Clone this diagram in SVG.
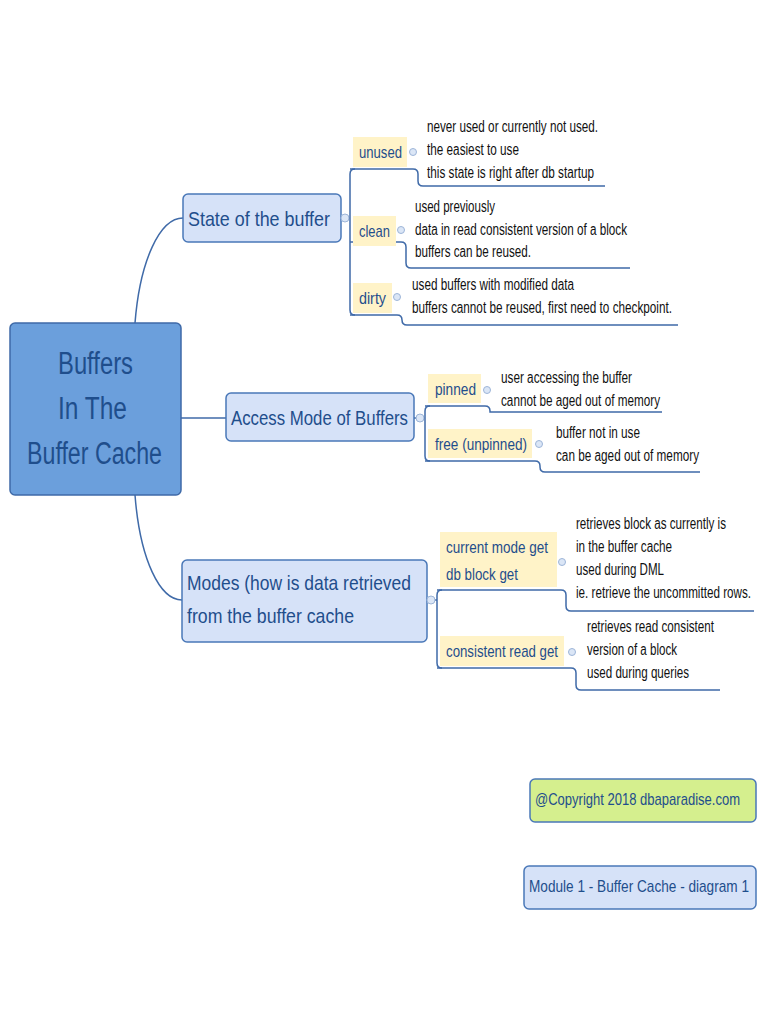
<svg xmlns="http://www.w3.org/2000/svg" width="768" height="1024" viewBox="0 0 768 1024">
<style>
.nd{fill:#d6e2f8;stroke:#4a78b8;stroke-width:1.5}
.lb{fill:#fff3c8}
.nt{font-family:"Liberation Sans",Arial,sans-serif;fill:#1f4e8c}
.dt{font-family:"Liberation Sans",Arial,sans-serif;font-size:16px;fill:#111}
.ln{fill:none;stroke:#3f6aa8;stroke-width:1.5}
.cc{fill:#dbe6f6;stroke:#9db5d8;stroke-width:1}
</style>
<rect width="768" height="1024" fill="#fff"/>
<g id="connectors">
<path class="ln" d="M135 323 C140 260 160 218 183 218"/>
<path class="ln" d="M181 418 L226 418"/>
<path class="ln" d="M135 495 C140 560 160 600 182 600"/>
<path class="ln" d="M341 218 L350 218 M355 169 Q350 169 350 174 L350 310 Q350 315 355 315"/>
<path class="ln" d="M350 169 L413 169 Q418 169 418 174 L418 181 Q418 186 423 186 L605 186"/>
<path class="ln" d="M350 242 L401 242 Q406 242 406 247 L406 263 Q406 268 411 268 L630 268"/>
<path class="ln" d="M350 315 L397 315 Q402 315 402 320 L402 320 Q402 325 407 325 L678 325"/>
<path class="ln" d="M414 418 L425 418 M430 406 Q425 406 425 411 L425 456 Q425 461 430 461"/>
<path class="ln" d="M425 406 L485 406 Q490 406 490 411 L490 412 L662 412"/>
<path class="ln" d="M425 461 L535 461 Q540 461 540 466 L540 467 Q540 472 545 472 L700 472"/>
<path class="ln" d="M427 600 L437 600 M442 590 Q437 590 437 595 L437 663 Q437 668 442 668"/>
<path class="ln" d="M437 590 L561 590 Q566 590 566 595 L566 606 Q566 611 571 611 L754 611"/>
<path class="ln" d="M437 668 L571 668 Q576 668 576 673 L576 685 Q576 690 581 690 L720 690"/>
</g>
<g id="center">
<rect x="10" y="323" width="171" height="172" rx="5" fill="#6b9fdc" stroke="#3f6aa8" stroke-width="1.5"/>
<text class="nt" font-size="31" x="58" y="374" textLength="75" lengthAdjust="spacingAndGlyphs">Buffers</text>
<text class="nt" font-size="31" x="58" y="419" textLength="69" lengthAdjust="spacingAndGlyphs">In The</text>
<text class="nt" font-size="31" x="27" y="464" textLength="135" lengthAdjust="spacingAndGlyphs">Buffer Cache</text>
</g>
<g id="state">
<rect class="nd" x="183" y="194" width="158" height="48" rx="5"/>
<text class="nt" font-size="21" x="188" y="226" textLength="142" lengthAdjust="spacingAndGlyphs">State of the buffer</text>
<circle class="cc" cx="345" cy="218" r="4"/>
</g>
<g id="access">
<rect class="nd" x="226" y="393" width="188" height="48" rx="5"/>
<text class="nt" font-size="21" x="231" y="425" textLength="177" lengthAdjust="spacingAndGlyphs">Access Mode of Buffers</text>
<circle class="cc" cx="420" cy="418" r="4"/>
</g>
<g id="modes">
<rect class="nd" x="182" y="560" width="245" height="82" rx="5"/>
<text class="nt" font-size="21" x="187" y="590" textLength="224" lengthAdjust="spacingAndGlyphs">Modes (how is data retrieved</text>
<text class="nt" font-size="21" x="187" y="623" textLength="167" lengthAdjust="spacingAndGlyphs">from the buffer cache</text>
<circle class="cc" cx="431" cy="600" r="4"/>
</g>
<g id="unused">
<rect class="lb" x="353" y="137" width="54" height="30"/>
<text class="nt" font-size="17" x="359" y="158" textLength="43" lengthAdjust="spacingAndGlyphs">unused</text>
<circle class="cc" cx="413" cy="152" r="3.5"/>
<text class="dt" x="427" y="132" textLength="171" lengthAdjust="spacingAndGlyphs">never used or currently not used.</text>
<text class="dt" x="427" y="155" textLength="92" lengthAdjust="spacingAndGlyphs">the easiest to use</text>
<text class="dt" x="427" y="178" textLength="167" lengthAdjust="spacingAndGlyphs">this state is right after db startup</text>
</g>
<g id="clean">
<rect class="lb" x="353" y="216" width="43" height="30"/>
<text class="nt" font-size="17" x="359" y="237" textLength="31" lengthAdjust="spacingAndGlyphs">clean</text>
<circle class="cc" cx="401" cy="230" r="3.5"/>
<text class="dt" x="415" y="212" textLength="80" lengthAdjust="spacingAndGlyphs">used previously</text>
<text class="dt" x="415" y="235" textLength="212" lengthAdjust="spacingAndGlyphs">data in read consistent version of a block</text>
<text class="dt" x="415" y="257" textLength="116" lengthAdjust="spacingAndGlyphs">buffers can be reused.</text>
</g>
<g id="dirty">
<rect class="lb" x="353" y="283" width="39" height="30"/>
<text class="nt" font-size="17" x="359" y="304" textLength="27" lengthAdjust="spacingAndGlyphs">dirty</text>
<circle class="cc" cx="397" cy="297" r="3.5"/>
<text class="dt" x="412" y="290" textLength="162" lengthAdjust="spacingAndGlyphs">used buffers with modified data</text>
<text class="dt" x="412" y="313" textLength="260" lengthAdjust="spacingAndGlyphs">buffers cannot be reused, first need to checkpoint.</text>
</g>
<g id="pinned">
<rect class="lb" x="428" y="374" width="53" height="29"/>
<text class="nt" font-size="17" x="435" y="395" textLength="41" lengthAdjust="spacingAndGlyphs">pinned</text>
<circle class="cc" cx="487" cy="390" r="3.5"/>
<text class="dt" x="501" y="383" textLength="131" lengthAdjust="spacingAndGlyphs">user accessing the buffer</text>
<text class="dt" x="501" y="406" textLength="159" lengthAdjust="spacingAndGlyphs">cannot be aged out of memory</text>
</g>
<g id="free">
<rect class="lb" x="428" y="429" width="104" height="29"/>
<text class="nt" font-size="17" x="435" y="450" textLength="92" lengthAdjust="spacingAndGlyphs">free (unpinned)</text>
<circle class="cc" cx="539" cy="444" r="3.5"/>
<text class="dt" x="556" y="438" textLength="84" lengthAdjust="spacingAndGlyphs">buffer not in use</text>
<text class="dt" x="556" y="461" textLength="143" lengthAdjust="spacingAndGlyphs">can be aged out of memory</text>
</g>
<g id="current">
<rect class="lb" x="440" y="532" width="117" height="55"/>
<text class="nt" font-size="17" x="446" y="553" textLength="102" lengthAdjust="spacingAndGlyphs">current mode get</text>
<text class="nt" font-size="17" x="446" y="580" textLength="72" lengthAdjust="spacingAndGlyphs">db block get</text>
<circle class="cc" cx="562" cy="562" r="3.5"/>
<text class="dt" x="576" y="529" textLength="150" lengthAdjust="spacingAndGlyphs">retrieves block as currently is</text>
<text class="dt" x="576" y="552" textLength="96" lengthAdjust="spacingAndGlyphs">in the buffer cache</text>
<text class="dt" x="576" y="575" textLength="88" lengthAdjust="spacingAndGlyphs">used during DML</text>
<text class="dt" x="576" y="598" textLength="175" lengthAdjust="spacingAndGlyphs">ie. retrieve the uncommitted rows.</text>
</g>
<g id="consistent">
<rect class="lb" x="440" y="636" width="124" height="30"/>
<text class="nt" font-size="17" x="446" y="657" textLength="112" lengthAdjust="spacingAndGlyphs">consistent read get</text>
<circle class="cc" cx="572" cy="652" r="3.5"/>
<text class="dt" x="587" y="632" textLength="127" lengthAdjust="spacingAndGlyphs">retrieves read consistent</text>
<text class="dt" x="587" y="655" textLength="90" lengthAdjust="spacingAndGlyphs">version of a block</text>
<text class="dt" x="587" y="678" textLength="102" lengthAdjust="spacingAndGlyphs">used during queries</text>
</g>
<g id="copyright">
<rect x="530" y="779" width="226" height="43" rx="5" fill="#d5ef8e" stroke="#4a78b8" stroke-width="1.5"/>
<text class="nt" font-size="17" x="535" y="805" textLength="205" lengthAdjust="spacingAndGlyphs">@Copyright 2018 dbaparadise.com</text>
</g>
<g id="module">
<rect class="nd" x="524" y="866" width="232" height="43" rx="5"/>
<text class="nt" font-size="17" x="529" y="892" textLength="220" lengthAdjust="spacingAndGlyphs">Module 1 - Buffer Cache - diagram 1</text>
</g>
</svg>
